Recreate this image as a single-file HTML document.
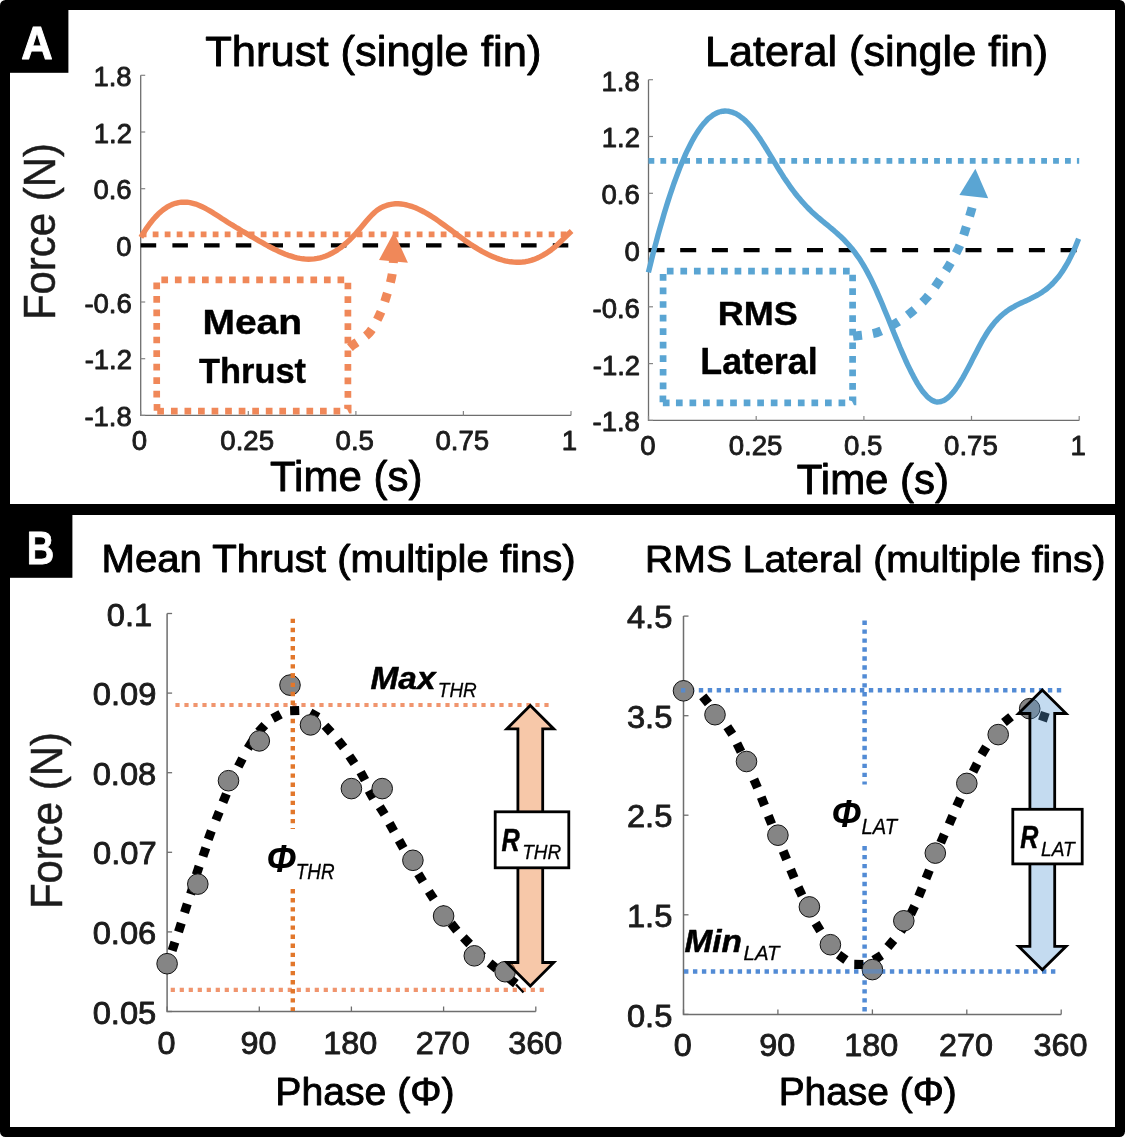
<!DOCTYPE html>
<html lang="en"><head><meta charset="utf-8"><title>Figure</title>
<style>
html,body{margin:0;padding:0;background:#fff;}
svg{display:block;font-family:"Liberation Sans", sans-serif;}
</style></head>
<body>
<svg width="1125" height="1137" viewBox="0 0 1125 1137">
<rect x="0" y="0" width="1125" height="1137" rx="5.5" ry="5.5" fill="#000"/>
<rect x="10" y="10" width="1105" height="494" fill="#fff"/>
<rect x="10" y="515" width="1105" height="612" fill="#fff"/>
<rect x="6" y="6" width="62.4" height="66.8" fill="#000"/>
<rect x="5" y="504" width="67.4" height="73.8" fill="#000"/>
<text transform="translate(21.21,58.70) scale(0.9281,1)" font-size="46.96" font-weight="bold" fill="#fff" stroke="#fff" stroke-width="1.0" stroke-linejoin="round">A</text>
<text transform="translate(26.83,563.60) scale(0.8175,1)" font-size="46.52" font-weight="bold" fill="#fff" stroke="#fff" stroke-width="0.8" stroke-linejoin="round">B</text>
<path d="M140.7,75.3 V415.4 H571.0" fill="none" stroke="#6e6e6e" stroke-width="1.3"/>
<line x1="140.7" x2="145.2" y1="75.3" y2="75.3" stroke="#858585" stroke-width="1.2"/>
<line x1="140.7" x2="145.2" y1="132.0" y2="132.0" stroke="#858585" stroke-width="1.2"/>
<line x1="140.7" x2="145.2" y1="188.7" y2="188.7" stroke="#858585" stroke-width="1.2"/>
<line x1="140.7" x2="145.2" y1="245.3" y2="245.3" stroke="#858585" stroke-width="1.2"/>
<line x1="140.7" x2="145.2" y1="302.0" y2="302.0" stroke="#858585" stroke-width="1.2"/>
<line x1="140.7" x2="145.2" y1="358.7" y2="358.7" stroke="#858585" stroke-width="1.2"/>
<line x1="140.7" x2="145.2" y1="415.4" y2="415.4" stroke="#858585" stroke-width="1.2"/>
<line x1="140.7" x2="140.7" y1="415.4" y2="410.9" stroke="#858585" stroke-width="1.2"/>
<line x1="248.3" x2="248.3" y1="415.4" y2="410.9" stroke="#858585" stroke-width="1.2"/>
<line x1="355.9" x2="355.9" y1="415.4" y2="410.9" stroke="#858585" stroke-width="1.2"/>
<line x1="463.4" x2="463.4" y1="415.4" y2="410.9" stroke="#858585" stroke-width="1.2"/>
<line x1="571.0" x2="571.0" y1="415.4" y2="410.9" stroke="#858585" stroke-width="1.2"/>
<text transform="translate(93.46,85.90) scale(1.0250,1)" font-size="26.82" fill="#1c1c1c" stroke="#1c1c1c" stroke-width="0.85" stroke-linejoin="round">1.8</text>
<text transform="translate(93.74,142.58) scale(1.0250,1)" font-size="26.82" fill="#1c1c1c" stroke="#1c1c1c" stroke-width="0.85" stroke-linejoin="round">1.2</text>
<text transform="translate(93.46,199.27) scale(1.0250,1)" font-size="26.82" fill="#1c1c1c" stroke="#1c1c1c" stroke-width="0.85" stroke-linejoin="round">0.6</text>
<text transform="translate(116.28,255.95) scale(1.0250,1)" font-size="26.82" fill="#1c1c1c" stroke="#1c1c1c" stroke-width="0.85" stroke-linejoin="round">0</text>
<text transform="translate(84.39,312.63) scale(1.0250,1)" font-size="26.82" fill="#1c1c1c" stroke="#1c1c1c" stroke-width="0.85" stroke-linejoin="round">-0.6</text>
<text transform="translate(84.66,369.32) scale(1.0250,1)" font-size="26.82" fill="#1c1c1c" stroke="#1c1c1c" stroke-width="0.85" stroke-linejoin="round">-1.2</text>
<text transform="translate(84.39,426.00) scale(1.0250,1)" font-size="26.82" fill="#1c1c1c" stroke="#1c1c1c" stroke-width="0.85" stroke-linejoin="round">-1.8</text>
<text transform="translate(131.86,450.40) scale(1.0300,1)" font-size="26.82" fill="#1c1c1c" stroke="#1c1c1c" stroke-width="0.85" stroke-linejoin="round">0</text>
<text transform="translate(220.31,450.40) scale(1.0300,1)" font-size="26.82" fill="#1c1c1c" stroke="#1c1c1c" stroke-width="0.85" stroke-linejoin="round">0.25</text>
<text transform="translate(335.55,450.40) scale(1.0300,1)" font-size="26.82" fill="#1c1c1c" stroke="#1c1c1c" stroke-width="0.85" stroke-linejoin="round">0.5</text>
<text transform="translate(435.46,450.40) scale(1.0300,1)" font-size="26.82" fill="#1c1c1c" stroke="#1c1c1c" stroke-width="0.85" stroke-linejoin="round">0.75</text>
<text transform="translate(561.82,450.40) scale(1.0300,1)" font-size="26.82" fill="#1c1c1c" stroke="#1c1c1c" stroke-width="0.85" stroke-linejoin="round">1</text>
<text transform="translate(55.3,231.6) rotate(-90) scale(0.94,1)" font-size="44.6" text-anchor="middle" fill="#1c1c1c" stroke="#1c1c1c" stroke-width="0.5">Force (N)</text>
<text transform="translate(205.18,66.20) scale(1.0340,1)" font-size="42.10" fill="#000" stroke="#000" stroke-width="0.9" stroke-linejoin="round">Thrust (single fin)</text>
<text transform="translate(270.01,490.60) scale(0.9775,1)" font-size="42.97" fill="#000" stroke="#000" stroke-width="0.9" stroke-linejoin="round">Time (s)</text>
<line x1="140.7" x2="571.0" y1="245.3" y2="245.3" stroke="#000" stroke-width="4.3" stroke-dasharray="15.5 16.2"/>
<line x1="140.7" x2="571.0" y1="234.4" y2="234.4" stroke="#F08859" stroke-width="5.8" stroke-dasharray="5.8 6.2"/>
<path d="M140.9,237.4 L143.8,232.5 L146.7,228.1 L149.6,224.0 L152.5,220.3 L155.4,217.0 L158.2,214.1 L161.1,211.5 L164.0,209.2 L166.9,207.2 L169.8,205.6 L172.7,204.3 L175.6,203.3 L178.5,202.6 L181.4,202.2 L184.3,202.1 L187.1,202.2 L190.0,202.6 L192.9,203.3 L195.8,204.1 L198.7,205.2 L201.6,206.5 L204.5,207.9 L207.4,209.5 L210.3,211.2 L213.2,212.9 L216.1,214.8 L218.9,216.6 L221.8,218.5 L224.7,220.3 L227.6,222.2 L230.5,224.0 L233.4,225.7 L236.3,227.5 L239.2,229.2 L242.1,231.0 L245.0,232.7 L247.9,234.4 L250.7,236.1 L253.6,237.7 L256.5,239.4 L259.4,241.1 L262.3,242.7 L265.2,244.4 L268.1,246.0 L271.0,247.5 L273.9,249.0 L276.8,250.4 L279.6,251.8 L282.5,253.0 L285.4,254.2 L288.3,255.3 L291.2,256.2 L294.1,257.1 L297.0,257.8 L299.9,258.4 L302.8,258.8 L305.7,259.1 L308.6,259.2 L311.4,259.1 L314.3,258.9 L317.2,258.4 L320.1,257.8 L323.0,257.0 L325.9,255.9 L328.8,254.7 L331.7,253.3 L334.6,251.7 L337.5,249.9 L340.4,247.9 L343.2,245.6 L346.1,243.2 L349.0,240.6 L351.9,237.7 L354.8,234.7 L357.7,231.4 L360.6,228.0 L363.5,224.5 L366.4,221.1 L369.3,217.8 L372.1,214.7 L375.0,212.0 L377.9,209.7 L380.8,207.9 L383.7,206.5 L386.6,205.4 L389.5,204.6 L392.4,204.1 L395.3,203.8 L398.2,203.8 L401.1,204.0 L403.9,204.4 L406.8,205.0 L409.7,205.8 L412.6,206.7 L415.5,207.8 L418.4,209.1 L421.3,210.5 L424.2,212.0 L427.1,213.7 L430.0,215.4 L432.9,217.2 L435.7,219.1 L438.6,221.1 L441.5,223.2 L444.4,225.3 L447.3,227.4 L450.2,229.5 L453.1,231.7 L456.0,233.8 L458.9,236.0 L461.8,238.1 L464.6,240.2 L467.5,242.2 L470.4,244.2 L473.3,246.1 L476.2,247.9 L479.1,249.7 L482.0,251.4 L484.9,252.9 L487.8,254.4 L490.7,255.8 L493.6,257.0 L496.4,258.1 L499.3,259.1 L502.2,260.0 L505.1,260.8 L508.0,261.4 L510.9,261.8 L513.8,262.1 L516.7,262.3 L519.6,262.2 L522.5,262.0 L525.4,261.7 L528.2,261.1 L531.1,260.4 L534.0,259.4 L536.9,258.3 L539.8,256.9 L542.7,255.4 L545.6,253.7 L548.5,251.8 L551.4,249.7 L554.3,247.4 L557.1,244.9 L560.0,242.2 L562.9,239.4 L565.8,236.5 L568.7,233.7 L571.6,231.0" fill="none" stroke="#F08859" stroke-width="5.4" stroke-linejoin="round"/>
<line x1="161.35" x2="344.20" y1="279.9" y2="279.9" stroke="#F08859" stroke-width="6.7" stroke-dasharray="6.7 6.85"/>
<line x1="170.95" x2="340.25" y1="411.2" y2="411.2" stroke="#F08859" stroke-width="6.7" stroke-dasharray="6.7 6.85"/>
<line y1="282.45" y2="397.55" x1="156.7" x2="156.7" stroke="#F08859" stroke-width="6.7" stroke-dasharray="6.7 6.85"/>
<line y1="282.65" y2="397.75" x1="347.9" x2="347.9" stroke="#F08859" stroke-width="6.7" stroke-dasharray="6.7 6.85"/>
<rect x="153.65" y="404.05" width="6.7" height="6.7" fill="#F08859"/>
<rect x="157.25" y="407.85" width="6.7" height="6.7" fill="#F08859"/>
<path d="M344.2,404.8 H351.5 V413.5 H349.2 L347.2,409.6 L344.2,408.5 Z" fill="#F08859"/>
<text transform="translate(202.46,334.00) scale(1.1310,1)" font-size="34.49" font-weight="bold" fill="#000" stroke="#000" stroke-width="0.4" stroke-linejoin="round">Mean</text>
<text transform="translate(199.06,382.50) scale(0.9768,1)" font-size="35.22" font-weight="bold" fill="#000" stroke="#000" stroke-width="0.4" stroke-linejoin="round">Thrust</text>
<path d="M349.9,347.6 C350.5,347.1 350.1,347.2 353.3,344.7 C356.5,342.2 364.9,337.8 369.3,332.7 C373.8,327.6 377.1,320.2 380.0,314.0 C382.9,307.8 384.7,301.8 386.7,295.3 C388.7,288.9 390.9,281.4 392.0,275.3 C393.1,269.2 393.3,261.7 393.6,259.0" fill="none" stroke="#F08859" stroke-width="9" stroke-dasharray="9 10.8"/>
<path d="M394,232.3 L379,260 L407.9,262.7 Z" fill="#F08859"/>
<path d="M648.5,79.7 V420.4 H1079.2" fill="none" stroke="#6e6e6e" stroke-width="1.3"/>
<line x1="648.5" x2="653.0" y1="79.7" y2="79.7" stroke="#858585" stroke-width="1.2"/>
<line x1="648.5" x2="653.0" y1="136.5" y2="136.5" stroke="#858585" stroke-width="1.2"/>
<line x1="648.5" x2="653.0" y1="193.3" y2="193.3" stroke="#858585" stroke-width="1.2"/>
<line x1="648.5" x2="653.0" y1="250.1" y2="250.1" stroke="#858585" stroke-width="1.2"/>
<line x1="648.5" x2="653.0" y1="306.8" y2="306.8" stroke="#858585" stroke-width="1.2"/>
<line x1="648.5" x2="653.0" y1="363.6" y2="363.6" stroke="#858585" stroke-width="1.2"/>
<line x1="648.5" x2="653.0" y1="420.4" y2="420.4" stroke="#858585" stroke-width="1.2"/>
<line x1="648.5" x2="648.5" y1="420.4" y2="415.9" stroke="#858585" stroke-width="1.2"/>
<line x1="756.2" x2="756.2" y1="420.4" y2="415.9" stroke="#858585" stroke-width="1.2"/>
<line x1="863.9" x2="863.9" y1="420.4" y2="415.9" stroke="#858585" stroke-width="1.2"/>
<line x1="971.5" x2="971.5" y1="420.4" y2="415.9" stroke="#858585" stroke-width="1.2"/>
<line x1="1079.2" x2="1079.2" y1="420.4" y2="415.9" stroke="#858585" stroke-width="1.2"/>
<text transform="translate(601.56,90.60) scale(1.0250,1)" font-size="26.82" fill="#1c1c1c" stroke="#1c1c1c" stroke-width="0.85" stroke-linejoin="round">1.8</text>
<text transform="translate(601.84,147.38) scale(1.0250,1)" font-size="26.82" fill="#1c1c1c" stroke="#1c1c1c" stroke-width="0.85" stroke-linejoin="round">1.2</text>
<text transform="translate(601.56,204.17) scale(1.0250,1)" font-size="26.82" fill="#1c1c1c" stroke="#1c1c1c" stroke-width="0.85" stroke-linejoin="round">0.6</text>
<text transform="translate(624.38,260.95) scale(1.0250,1)" font-size="26.82" fill="#1c1c1c" stroke="#1c1c1c" stroke-width="0.85" stroke-linejoin="round">0</text>
<text transform="translate(592.49,317.73) scale(1.0250,1)" font-size="26.82" fill="#1c1c1c" stroke="#1c1c1c" stroke-width="0.85" stroke-linejoin="round">-0.6</text>
<text transform="translate(592.76,374.52) scale(1.0250,1)" font-size="26.82" fill="#1c1c1c" stroke="#1c1c1c" stroke-width="0.85" stroke-linejoin="round">-1.2</text>
<text transform="translate(592.49,431.30) scale(1.0250,1)" font-size="26.82" fill="#1c1c1c" stroke="#1c1c1c" stroke-width="0.85" stroke-linejoin="round">-1.8</text>
<text transform="translate(640.16,455.40) scale(1.0300,1)" font-size="26.82" fill="#1c1c1c" stroke="#1c1c1c" stroke-width="0.85" stroke-linejoin="round">0</text>
<text transform="translate(728.71,455.40) scale(1.0300,1)" font-size="26.82" fill="#1c1c1c" stroke="#1c1c1c" stroke-width="0.85" stroke-linejoin="round">0.25</text>
<text transform="translate(844.05,455.40) scale(1.0300,1)" font-size="26.82" fill="#1c1c1c" stroke="#1c1c1c" stroke-width="0.85" stroke-linejoin="round">0.5</text>
<text transform="translate(944.06,455.40) scale(1.0300,1)" font-size="26.82" fill="#1c1c1c" stroke="#1c1c1c" stroke-width="0.85" stroke-linejoin="round">0.75</text>
<text transform="translate(1070.52,455.40) scale(1.0300,1)" font-size="26.82" fill="#1c1c1c" stroke="#1c1c1c" stroke-width="0.85" stroke-linejoin="round">1</text>
<text transform="translate(705.10,66.00) scale(1.0217,1)" font-size="42.25" fill="#000" stroke="#000" stroke-width="0.9" stroke-linejoin="round">Lateral (single fin)</text>
<text transform="translate(796.71,494.10) scale(0.9841,1)" font-size="42.68" fill="#000" stroke="#000" stroke-width="0.9" stroke-linejoin="round">Time (s)</text>
<line x1="648.5" x2="1079.2" y1="250.1" y2="250.1" stroke="#000" stroke-width="4.3" stroke-dasharray="16 15.7"/>
<line x1="648.5" x2="1079.2" y1="160.8" y2="160.8" stroke="#5AA5D3" stroke-width="5.8" stroke-dasharray="5.8 6.1"/>
<path d="M648.4,272.3 L650.4,264.3 L652.3,256.5 L654.3,248.9 L656.3,241.5 L658.2,234.3 L660.2,227.3 L662.2,220.4 L664.1,213.8 L666.1,207.3 L668.0,201.1 L670.0,195.0 L672.0,189.2 L673.9,183.5 L675.9,178.1 L677.9,172.8 L679.8,167.8 L681.8,163.0 L683.8,158.4 L685.7,153.9 L687.7,149.7 L689.7,145.8 L691.6,142.0 L693.6,138.4 L695.5,135.1 L697.5,132.0 L699.5,129.0 L701.4,126.4 L703.4,123.9 L705.4,121.7 L707.3,119.6 L709.3,117.8 L711.3,116.3 L713.2,114.9 L715.2,113.7 L717.2,112.8 L719.1,112.0 L721.1,111.5 L723.0,111.2 L725.0,111.0 L727.0,111.1 L728.9,111.3 L730.9,111.8 L732.9,112.4 L734.8,113.2 L736.8,114.2 L738.8,115.4 L740.7,116.8 L742.7,118.3 L744.7,120.0 L746.6,121.9 L748.6,123.9 L750.5,126.1 L752.5,128.5 L754.5,131.1 L756.4,133.7 L758.4,136.5 L760.4,139.4 L762.3,142.4 L764.3,145.5 L766.3,148.7 L768.2,151.9 L770.2,155.1 L772.2,158.4 L774.1,161.6 L776.1,164.9 L778.0,168.1 L780.0,171.3 L782.0,174.4 L783.9,177.5 L785.9,180.4 L787.9,183.3 L789.8,186.1 L791.8,188.8 L793.8,191.5 L795.7,194.0 L797.7,196.5 L799.7,198.8 L801.6,201.1 L803.6,203.3 L805.6,205.5 L807.5,207.5 L809.5,209.5 L811.4,211.4 L813.4,213.2 L815.4,215.0 L817.3,216.7 L819.3,218.4 L821.3,220.1 L823.2,221.7 L825.2,223.3 L827.2,224.9 L829.1,226.5 L831.1,228.2 L833.1,229.8 L835.0,231.5 L837.0,233.2 L838.9,235.0 L840.9,236.8 L842.9,238.7 L844.8,240.7 L846.8,242.8 L848.8,245.0 L850.7,247.2 L852.7,249.6 L854.7,252.2 L856.6,254.8 L858.6,257.6 L860.6,260.6 L862.5,263.7 L864.5,267.0 L866.4,270.4 L868.4,274.1 L870.4,277.9 L872.3,281.9 L874.3,286.1 L876.3,290.4 L878.2,294.9 L880.2,299.4 L882.2,304.0 L884.1,308.7 L886.1,313.5 L888.1,318.3 L890.0,323.1 L892.0,327.9 L893.9,332.8 L895.9,337.6 L897.9,342.3 L899.8,347.0 L901.8,351.6 L903.8,356.1 L905.7,360.5 L907.7,364.8 L909.7,368.9 L911.6,372.8 L913.6,376.6 L915.6,380.2 L917.5,383.6 L919.5,386.7 L921.4,389.6 L923.4,392.3 L925.4,394.6 L927.3,396.7 L929.3,398.4 L931.3,399.8 L933.2,400.9 L935.2,401.6 L937.2,402.0 L939.1,401.9 L941.1,401.5 L943.1,400.8 L945.0,399.8 L947.0,398.4 L949.0,396.7 L950.9,394.8 L952.9,392.5 L954.8,390.1 L956.8,387.3 L958.8,384.4 L960.7,381.2 L962.7,377.9 L964.7,374.3 L966.6,370.7 L968.6,367.0 L970.6,363.2 L972.5,359.4 L974.5,355.5 L976.5,351.7 L978.4,348.0 L980.4,344.3 L982.3,340.7 L984.3,337.3 L986.3,334.0 L988.2,331.0 L990.2,328.1 L992.2,325.5 L994.1,323.1 L996.1,320.8 L998.1,318.7 L1000.0,316.8 L1002.0,315.0 L1004.0,313.3 L1005.9,311.8 L1007.9,310.4 L1009.8,309.1 L1011.8,307.9 L1013.8,306.8 L1015.7,305.7 L1017.7,304.7 L1019.7,303.7 L1021.6,302.8 L1023.6,301.9 L1025.6,301.0 L1027.5,300.1 L1029.5,299.2 L1031.5,298.2 L1033.4,297.2 L1035.4,296.2 L1037.3,295.1 L1039.3,294.0 L1041.3,292.8 L1043.2,291.4 L1045.2,290.0 L1047.2,288.5 L1049.1,286.8 L1051.1,285.0 L1053.1,283.0 L1055.0,280.9 L1057.0,278.6 L1059.0,276.2 L1060.9,273.5 L1062.9,270.6 L1064.8,267.5 L1066.8,264.2 L1068.8,260.6 L1070.7,256.8 L1072.7,252.7 L1074.7,248.4 L1076.6,243.7 L1078.6,238.8" fill="none" stroke="#5AA5D3" stroke-width="5.4" stroke-linejoin="round"/>
<line x1="666.85" x2="849.70" y1="271.2" y2="271.2" stroke="#5AA5D3" stroke-width="6.7" stroke-dasharray="6.7 6.85"/>
<line x1="675.95" x2="845.25" y1="402.9" y2="402.9" stroke="#5AA5D3" stroke-width="6.7" stroke-dasharray="6.7 6.85"/>
<line y1="274.05" y2="389.15" x1="663.1" x2="663.1" stroke="#5AA5D3" stroke-width="6.7" stroke-dasharray="6.7 6.85"/>
<line y1="274.65" y2="389.75" x1="852.6" x2="852.6" stroke="#5AA5D3" stroke-width="6.7" stroke-dasharray="6.7 6.85"/>
<rect x="659.55" y="395.55" width="6.7" height="6.7" fill="#5AA5D3"/>
<rect x="662.85" y="399.55" width="6.7" height="6.7" fill="#5AA5D3"/>
<path d="M849.0,396.5 H856.3 V405.2 H854.0 L852.0,401.3 L849.0,400.2 Z" fill="#5AA5D3"/>
<text transform="translate(717.86,325.00) scale(1.0718,1)" font-size="33.62" font-weight="bold" fill="#000" stroke="#000" stroke-width="0.4" stroke-linejoin="round">RMS</text>
<text transform="translate(700.27,373.60) scale(0.9726,1)" font-size="36.81" font-weight="bold" fill="#000" stroke="#000" stroke-width="0.4" stroke-linejoin="round">Lateral</text>
<path d="M853.1,336.3 C853.9,336.2 853.7,336.4 857.6,335.8 C861.5,335.2 870.7,334.6 876.8,332.6 C882.9,330.6 888.5,327.5 894.4,324.0 C900.3,320.5 906.6,316.2 912.0,311.8 C917.4,307.4 922.5,302.6 927.0,297.4 C931.5,292.2 935.3,286.5 939.2,280.8 C943.1,275.1 946.9,269.2 950.4,263.2 C953.9,257.2 957.3,251.1 960.0,245.0 C962.7,238.9 964.4,232.7 966.4,226.4 C968.4,220.1 970.9,212.1 972.2,207.2 C973.5,202.3 973.7,198.7 974.0,197.0" fill="none" stroke="#5AA5D3" stroke-width="9" stroke-dasharray="9 10.8"/>
<path d="M975.4,168.8 L959.4,195 L988.2,198.2 Z" fill="#5AA5D3"/>
<path d="M167.1,613.5 V1011.5 H535.8" fill="none" stroke="#6e6e6e" stroke-width="1.5"/>
<line x1="167.1" x2="172.1" y1="613.5" y2="613.5" stroke="#6e6e6e" stroke-width="1.3"/>
<line x1="167.1" x2="172.1" y1="693.1" y2="693.1" stroke="#6e6e6e" stroke-width="1.3"/>
<line x1="167.1" x2="172.1" y1="772.7" y2="772.7" stroke="#6e6e6e" stroke-width="1.3"/>
<line x1="167.1" x2="172.1" y1="852.3" y2="852.3" stroke="#6e6e6e" stroke-width="1.3"/>
<line x1="167.1" x2="172.1" y1="931.9" y2="931.9" stroke="#6e6e6e" stroke-width="1.3"/>
<line x1="167.1" x2="172.1" y1="1011.5" y2="1011.5" stroke="#6e6e6e" stroke-width="1.3"/>
<line x1="167.1" x2="167.1" y1="1011.5" y2="1006.5" stroke="#6e6e6e" stroke-width="1.3"/>
<line x1="259.3" x2="259.3" y1="1011.5" y2="1006.5" stroke="#6e6e6e" stroke-width="1.3"/>
<line x1="351.4" x2="351.4" y1="1011.5" y2="1006.5" stroke="#6e6e6e" stroke-width="1.3"/>
<line x1="443.6" x2="443.6" y1="1011.5" y2="1006.5" stroke="#6e6e6e" stroke-width="1.3"/>
<line x1="535.8" x2="535.8" y1="1011.5" y2="1006.5" stroke="#6e6e6e" stroke-width="1.3"/>
<text transform="translate(106.77,625.60) scale(1.0565,1)" font-size="30.96" fill="#1c1c1c" stroke="#1c1c1c" stroke-width="0.85" stroke-linejoin="round">0.1</text>
<text transform="translate(92.82,705.20) scale(1.0565,1)" font-size="30.96" fill="#1c1c1c" stroke="#1c1c1c" stroke-width="0.85" stroke-linejoin="round">0.09</text>
<text transform="translate(92.65,784.80) scale(1.0565,1)" font-size="30.96" fill="#1c1c1c" stroke="#1c1c1c" stroke-width="0.85" stroke-linejoin="round">0.08</text>
<text transform="translate(92.98,864.40) scale(1.0565,1)" font-size="30.96" fill="#1c1c1c" stroke="#1c1c1c" stroke-width="0.85" stroke-linejoin="round">0.07</text>
<text transform="translate(92.65,944.00) scale(1.0565,1)" font-size="30.96" fill="#1c1c1c" stroke="#1c1c1c" stroke-width="0.85" stroke-linejoin="round">0.06</text>
<text transform="translate(92.65,1023.60) scale(1.0565,1)" font-size="30.96" fill="#1c1c1c" stroke="#1c1c1c" stroke-width="0.85" stroke-linejoin="round">0.05</text>
<text transform="translate(157.43,1053.60) scale(1.0609,1)" font-size="30.54" fill="#1c1c1c" stroke="#1c1c1c" stroke-width="0.85" stroke-linejoin="round">0</text>
<text transform="translate(240.53,1053.60) scale(1.0609,1)" font-size="30.54" fill="#1c1c1c" stroke="#1c1c1c" stroke-width="0.85" stroke-linejoin="round">90</text>
<text transform="translate(323.23,1053.60) scale(1.0609,1)" font-size="30.54" fill="#1c1c1c" stroke="#1c1c1c" stroke-width="0.85" stroke-linejoin="round">180</text>
<text transform="translate(415.81,1053.60) scale(1.0609,1)" font-size="30.54" fill="#1c1c1c" stroke="#1c1c1c" stroke-width="0.85" stroke-linejoin="round">270</text>
<text transform="translate(508.15,1053.60) scale(1.0609,1)" font-size="30.54" fill="#1c1c1c" stroke="#1c1c1c" stroke-width="0.85" stroke-linejoin="round">360</text>
<text transform="translate(62.3,820.6) rotate(-90) scale(0.94,1)" font-size="44.6" text-anchor="middle" fill="#1c1c1c" stroke="#1c1c1c" stroke-width="0.5">Force (N)</text>
<text transform="translate(101.54,572.20) scale(1.0591,1)" font-size="37.90" fill="#000" stroke="#000" stroke-width="0.9" stroke-linejoin="round">Mean Thrust (multiple fins)</text>
<text transform="translate(275.32,1104.50) scale(0.9881,1)" font-size="39.64" fill="#000" stroke="#000" stroke-width="0.9" stroke-linejoin="round">Phase (Φ)</text>
<line x1="175.4" x2="550.5" y1="705" y2="705" stroke="#F0956E" stroke-width="4.2" stroke-dasharray="4.2 4.8"/>
<line x1="170.7" x2="544" y1="989.8" y2="989.8" stroke="#F0956E" stroke-width="4.2" stroke-dasharray="4.2 4.8"/>
<line x1="292.8" x2="292.8" y1="618.7" y2="829" stroke="#E2772B" stroke-width="4.4" stroke-dasharray="4.4 4.7"/>
<line x1="292.8" x2="292.8" y1="889" y2="1011" stroke="#E2772B" stroke-width="4.4" stroke-dasharray="4.4 4.7"/>
<rect x="-4.55" y="-4.55" width="9.1" height="9.1" fill="#000" fill-opacity="1" transform="translate(168.2,964.0) rotate(-73.2)"/>
<rect x="-4.55" y="-4.55" width="9.1" height="9.1" fill="#000" fill-opacity="1" transform="translate(173.5,946.4) rotate(-72.2)"/>
<rect x="-4.55" y="-4.55" width="9.1" height="9.1" fill="#000" fill-opacity="1" transform="translate(179.9,927.5) rotate(-72.0)"/>
<rect x="-4.55" y="-4.55" width="9.1" height="9.1" fill="#000" fill-opacity="1" transform="translate(185.9,908.3) rotate(-72.2)"/>
<rect x="-4.55" y="-4.55" width="9.1" height="9.1" fill="#000" fill-opacity="1" transform="translate(192.0,889.8) rotate(-72.6)"/>
<rect x="-4.55" y="-4.55" width="9.1" height="9.1" fill="#000" fill-opacity="1" transform="translate(197.7,870.6) rotate(-71.8)"/>
<rect x="-4.55" y="-4.55" width="9.1" height="9.1" fill="#000" fill-opacity="1" transform="translate(204.4,852.1) rotate(-71.2)"/>
<rect x="-4.55" y="-4.55" width="9.1" height="9.1" fill="#000" fill-opacity="1" transform="translate(209.8,835.1) rotate(-70.0)"/>
<rect x="-4.55" y="-4.55" width="9.1" height="9.1" fill="#000" fill-opacity="1" transform="translate(217.6,815.9) rotate(-68.1)"/>
<rect x="-4.55" y="-4.55" width="9.1" height="9.1" fill="#000" fill-opacity="1" transform="translate(224.7,798.1) rotate(-67.7)"/>
<rect x="-4.55" y="-4.55" width="9.1" height="9.1" fill="#000" fill-opacity="1" transform="translate(232.3,780.0) rotate(-66.2)"/>
<rect x="-4.55" y="-4.55" width="9.1" height="9.1" fill="#000" fill-opacity="1" transform="translate(240.4,762.5) rotate(-63.0)"/>
<rect x="-4.55" y="-4.55" width="9.1" height="9.1" fill="#000" fill-opacity="1" transform="translate(250.3,744.6) rotate(-58.0)"/>
<rect x="-4.55" y="-4.55" width="9.1" height="9.1" fill="#000" fill-opacity="1" transform="translate(261.7,728.4) rotate(-47.1)"/>
<rect x="-4.55" y="-4.55" width="9.1" height="9.1" fill="#000" fill-opacity="1" transform="translate(276.6,716.3) rotate(-28.3)"/>
<rect x="-4.55" y="-4.55" width="9.1" height="9.1" fill="#000" fill-opacity="1" transform="translate(294.7,710.6) rotate(-2.1)"/>
<rect x="-4.55" y="-4.55" width="9.1" height="9.1" fill="#000" fill-opacity="1" transform="translate(314.2,714.9) rotate(29.0)"/>
<rect x="-4.55" y="-4.55" width="9.1" height="9.1" fill="#000" fill-opacity="1" transform="translate(328.1,729.1) rotate(47.3)"/>
<rect x="-4.55" y="-4.55" width="9.1" height="9.1" fill="#000" fill-opacity="1" transform="translate(340.9,743.8) rotate(52.1)"/>
<rect x="-4.55" y="-4.55" width="9.1" height="9.1" fill="#000" fill-opacity="1" transform="translate(351.9,759.7) rotate(55.9)"/>
<rect x="-4.55" y="-4.55" width="9.1" height="9.1" fill="#000" fill-opacity="1" transform="translate(362.8,776.1) rotate(61.2)"/>
<rect x="-4.55" y="-4.55" width="9.1" height="9.1" fill="#000" fill-opacity="1" transform="translate(371.1,794.6) rotate(60.7)"/>
<rect x="-4.55" y="-4.55" width="9.1" height="9.1" fill="#000" fill-opacity="1" transform="translate(382.2,810.6) rotate(57.8)"/>
<rect x="-4.55" y="-4.55" width="9.1" height="9.1" fill="#000" fill-opacity="1" transform="translate(391.7,827.3) rotate(60.6)"/>
<rect x="-4.55" y="-4.55" width="9.1" height="9.1" fill="#000" fill-opacity="1" transform="translate(401.2,844.3) rotate(60.6)"/>
<rect x="-4.55" y="-4.55" width="9.1" height="9.1" fill="#000" fill-opacity="1" transform="translate(410.6,860.9) rotate(59.9)"/>
<rect x="-4.55" y="-4.55" width="9.1" height="9.1" fill="#000" fill-opacity="1" transform="translate(420.6,877.7) rotate(58.9)"/>
<rect x="-4.55" y="-4.55" width="9.1" height="9.1" fill="#000" fill-opacity="1" transform="translate(431.3,895.2) rotate(56.9)"/>
<rect x="-4.55" y="-4.55" width="9.1" height="9.1" fill="#000" fill-opacity="1" transform="translate(442.5,911.3) rotate(54.5)"/>
<rect x="-4.55" y="-4.55" width="9.1" height="9.1" fill="#000" fill-opacity="1" transform="translate(454.0,927.0) rotate(50.8)"/>
<rect x="-4.55" y="-4.55" width="9.1" height="9.1" fill="#000" fill-opacity="1" transform="translate(466.5,940.7) rotate(46.1)"/>
<rect x="-4.55" y="-4.55" width="9.1" height="9.1" fill="#000" fill-opacity="1" transform="translate(479.5,953.5) rotate(43.5)"/>
<rect x="-4.55" y="-4.55" width="9.1" height="9.1" fill="#000" fill-opacity="1" transform="translate(493.1,965.9) rotate(39.8)"/>
<rect x="-4.55" y="-4.55" width="9.1" height="9.1" fill="#000" fill-opacity="1" transform="translate(512.3,980.8) rotate(37.8)"/>
<path d="M516,984.5 L523.5,992.5" stroke="#000" stroke-width="2.2" fill="none"/>
<circle cx="167.1" cy="963.7" r="10.3" fill="#858585" stroke="#111" stroke-width="1"/>
<circle cx="197.8" cy="884.1" r="10.3" fill="#858585" stroke="#111" stroke-width="1"/>
<circle cx="228.5" cy="780.7" r="10.3" fill="#858585" stroke="#111" stroke-width="1"/>
<circle cx="259.3" cy="740.9" r="10.3" fill="#858585" stroke="#111" stroke-width="1"/>
<circle cx="290.0" cy="685.1" r="10.3" fill="#858585" stroke="#111" stroke-width="1"/>
<circle cx="310.5" cy="724.9" r="10.3" fill="#858585" stroke="#111" stroke-width="1"/>
<circle cx="351.4" cy="788.6" r="10.3" fill="#858585" stroke="#111" stroke-width="1"/>
<circle cx="382.2" cy="788.6" r="10.3" fill="#858585" stroke="#111" stroke-width="1"/>
<circle cx="412.9" cy="860.3" r="10.3" fill="#858585" stroke="#111" stroke-width="1"/>
<circle cx="443.6" cy="916.0" r="10.3" fill="#858585" stroke="#111" stroke-width="1"/>
<circle cx="474.3" cy="955.8" r="10.3" fill="#858585" stroke="#111" stroke-width="1"/>
<circle cx="505.1" cy="971.7" r="10.3" fill="#858585" stroke="#111" stroke-width="1"/>
<line x1="292.8" x2="292.8" y1="673.6" y2="700" stroke="#E2772B" stroke-width="4.4" stroke-dasharray="4.4 4.7"/>
<path d="M530.3,705.4 L553.8,728.9 H542.6999999999999 V962.5 H553.8 L530.3,986 L506.79999999999995,962.5 H517.9 V728.9 H506.79999999999995 Z" fill="#ED7D31" fill-opacity="0.42" stroke="#000" stroke-width="2.8" stroke-linejoin="miter"/>
<rect x="495.2" y="811.8" width="73.6" height="56" fill="#fff" stroke="#000" stroke-width="2.8"/>
<text transform="translate(501.55,850.80) scale(0.7844,1)" font-size="32.10" font-weight="bold" font-style="italic" fill="#000" stroke="#000" stroke-width="0.5" stroke-linejoin="round">R</text>
<text transform="translate(522.14,859.00) scale(0.9120,1)" font-size="20.80" font-style="italic" fill="#000" stroke="#000" stroke-width="0.3" stroke-linejoin="round">THR</text>
<text transform="translate(370.58,688.50) scale(1.0634,1)" font-size="31.38" font-weight="bold" font-style="italic" fill="#000" stroke="#000" stroke-width="0.5" stroke-linejoin="round">Max</text>
<text transform="translate(437.84,697.30) scale(0.9120,1)" font-size="20.80" font-style="italic" fill="#000" stroke="#000" stroke-width="0.3" stroke-linejoin="round">THR</text>
<text transform="translate(266.58,872.00) scale(0.9287,1)" font-size="38.85" font-weight="bold" font-style="italic" fill="#000">Φ</text>
<text transform="translate(295.85,878.60) scale(0.8765,1)" font-size="21.52" font-style="italic" fill="#000" stroke="#000" stroke-width="0.3" stroke-linejoin="round">THR</text>
<path d="M683.5,616.1 V1014.4 H1061.2" fill="none" stroke="#6e6e6e" stroke-width="1.5"/>
<line x1="683.5" x2="688.5" y1="616.1" y2="616.1" stroke="#6e6e6e" stroke-width="1.3"/>
<line x1="683.5" x2="688.5" y1="715.7" y2="715.7" stroke="#6e6e6e" stroke-width="1.3"/>
<line x1="683.5" x2="688.5" y1="815.2" y2="815.2" stroke="#6e6e6e" stroke-width="1.3"/>
<line x1="683.5" x2="688.5" y1="914.8" y2="914.8" stroke="#6e6e6e" stroke-width="1.3"/>
<line x1="683.5" x2="688.5" y1="1014.4" y2="1014.4" stroke="#6e6e6e" stroke-width="1.3"/>
<line x1="683.5" x2="683.5" y1="1014.4" y2="1009.4" stroke="#6e6e6e" stroke-width="1.3"/>
<line x1="777.9" x2="777.9" y1="1014.4" y2="1009.4" stroke="#6e6e6e" stroke-width="1.3"/>
<line x1="872.4" x2="872.4" y1="1014.4" y2="1009.4" stroke="#6e6e6e" stroke-width="1.3"/>
<line x1="966.8" x2="966.8" y1="1014.4" y2="1009.4" stroke="#6e6e6e" stroke-width="1.3"/>
<line x1="1061.2" x2="1061.2" y1="1014.4" y2="1009.4" stroke="#6e6e6e" stroke-width="1.3"/>
<text transform="translate(626.91,628.20) scale(1.0565,1)" font-size="30.96" fill="#1c1c1c" stroke="#1c1c1c" stroke-width="0.85" stroke-linejoin="round">4.5</text>
<text transform="translate(626.91,727.77) scale(1.0565,1)" font-size="30.96" fill="#1c1c1c" stroke="#1c1c1c" stroke-width="0.85" stroke-linejoin="round">3.5</text>
<text transform="translate(626.91,827.35) scale(1.0565,1)" font-size="30.96" fill="#1c1c1c" stroke="#1c1c1c" stroke-width="0.85" stroke-linejoin="round">2.5</text>
<text transform="translate(626.91,926.93) scale(1.0565,1)" font-size="30.96" fill="#1c1c1c" stroke="#1c1c1c" stroke-width="0.85" stroke-linejoin="round">1.5</text>
<text transform="translate(626.91,1026.50) scale(1.0565,1)" font-size="30.96" fill="#1c1c1c" stroke="#1c1c1c" stroke-width="0.85" stroke-linejoin="round">0.5</text>
<text transform="translate(673.83,1056.00) scale(1.0609,1)" font-size="30.54" fill="#1c1c1c" stroke="#1c1c1c" stroke-width="0.85" stroke-linejoin="round">0</text>
<text transform="translate(759.18,1056.00) scale(1.0609,1)" font-size="30.54" fill="#1c1c1c" stroke="#1c1c1c" stroke-width="0.85" stroke-linejoin="round">90</text>
<text transform="translate(844.13,1056.00) scale(1.0609,1)" font-size="30.54" fill="#1c1c1c" stroke="#1c1c1c" stroke-width="0.85" stroke-linejoin="round">180</text>
<text transform="translate(938.96,1056.00) scale(1.0609,1)" font-size="30.54" fill="#1c1c1c" stroke="#1c1c1c" stroke-width="0.85" stroke-linejoin="round">270</text>
<text transform="translate(1033.55,1056.00) scale(1.0609,1)" font-size="30.54" fill="#1c1c1c" stroke="#1c1c1c" stroke-width="0.85" stroke-linejoin="round">360</text>
<text transform="translate(645.12,571.60) scale(1.0727,1)" font-size="36.45" fill="#000" stroke="#000" stroke-width="0.9" stroke-linejoin="round">RMS Lateral (multiple fins)</text>
<text transform="translate(778.64,1105.30) scale(0.9818,1)" font-size="39.64" fill="#000" stroke="#000" stroke-width="0.9" stroke-linejoin="round">Phase (Φ)</text>
<line x1="689.85" x2="1064" y1="690.3" y2="690.3" stroke="#528BD5" stroke-width="4.5" stroke-dasharray="4.4 4.55"/>
<line x1="684" x2="1059" y1="971.5" y2="971.5" stroke="#528BD5" stroke-width="4.5" stroke-dasharray="4.4 4.55"/>
<line x1="864.6" x2="864.6" y1="620.5" y2="784.5" stroke="#528BD5" stroke-width="4.5" stroke-dasharray="4.4 4.55"/>
<line x1="864.6" x2="864.6" y1="846" y2="1013.3" stroke="#528BD5" stroke-width="4.5" stroke-dasharray="4.4 4.55"/>
<rect x="-4.55" y="-4.55" width="9.1" height="9.1" fill="#000" fill-opacity="1" transform="translate(705.6,699.9) rotate(51.4)"/>
<rect x="-4.55" y="-4.55" width="9.1" height="9.1" fill="#000" fill-opacity="1" transform="translate(717.5,714.8) rotate(51.7)"/>
<rect x="-4.55" y="-4.55" width="9.1" height="9.1" fill="#000" fill-opacity="1" transform="translate(729.8,730.5) rotate(56.8)"/>
<rect x="-4.55" y="-4.55" width="9.1" height="9.1" fill="#000" fill-opacity="1" transform="translate(739.0,747.6) rotate(63.8)"/>
<rect x="-4.55" y="-4.55" width="9.1" height="9.1" fill="#000" fill-opacity="1" transform="translate(746.9,765.3) rotate(65.1)"/>
<rect x="-4.55" y="-4.55" width="9.1" height="9.1" fill="#000" fill-opacity="1" transform="translate(755.7,783.6) rotate(66.0)"/>
<rect x="-4.55" y="-4.55" width="9.1" height="9.1" fill="#000" fill-opacity="1" transform="translate(762.9,801.3) rotate(68.5)"/>
<rect x="-4.55" y="-4.55" width="9.1" height="9.1" fill="#000" fill-opacity="1" transform="translate(770.0,819.9) rotate(68.1)"/>
<rect x="-4.55" y="-4.55" width="9.1" height="9.1" fill="#000" fill-opacity="1" transform="translate(777.5,837.6) rotate(67.2)"/>
<rect x="-4.55" y="-4.55" width="9.1" height="9.1" fill="#000" fill-opacity="1" transform="translate(784.9,855.3) rotate(67.6)"/>
<rect x="-4.55" y="-4.55" width="9.1" height="9.1" fill="#000" fill-opacity="1" transform="translate(792.4,873.8) rotate(67.2)"/>
<rect x="-4.55" y="-4.55" width="9.1" height="9.1" fill="#000" fill-opacity="1" transform="translate(800.1,891.4) rotate(65.1)"/>
<rect x="-4.55" y="-4.55" width="9.1" height="9.1" fill="#000" fill-opacity="1" transform="translate(809.0,909.5) rotate(63.3)"/>
<rect x="-4.55" y="-4.55" width="9.1" height="9.1" fill="#000" fill-opacity="1" transform="translate(818.0,927.0) rotate(58.9)"/>
<rect x="-4.55" y="-4.55" width="9.1" height="9.1" fill="#000" fill-opacity="1" transform="translate(829.5,943.5) rotate(51.4)"/>
<rect x="-4.55" y="-4.55" width="9.1" height="9.1" fill="#000" fill-opacity="1" transform="translate(842.2,957.3) rotate(35.5)"/>
<rect x="-4.55" y="-4.55" width="9.1" height="9.1" fill="#000" fill-opacity="1" transform="translate(858.8,964.4) rotate(0.6)"/>
<rect x="-4.55" y="-4.55" width="9.1" height="9.1" fill="#000" fill-opacity="1" transform="translate(877.7,957.7) rotate(-33.1)"/>
<rect x="-4.55" y="-4.55" width="9.1" height="9.1" fill="#000" fill-opacity="1" transform="translate(890.8,943.5) rotate(-49.7)"/>
<rect x="-4.55" y="-4.55" width="9.1" height="9.1" fill="#000" fill-opacity="1" transform="translate(903.3,927.5) rotate(-56.7)"/>
<rect x="-4.55" y="-4.55" width="9.1" height="9.1" fill="#000" fill-opacity="1" transform="translate(912.7,910.2) rotate(-64.1)"/>
<rect x="-4.55" y="-4.55" width="9.1" height="9.1" fill="#000" fill-opacity="1" transform="translate(920.4,892.3) rotate(-67.3)"/>
<rect x="-4.55" y="-4.55" width="9.1" height="9.1" fill="#000" fill-opacity="1" transform="translate(927.7,874.3) rotate(-68.1)"/>
<rect x="-4.55" y="-4.55" width="9.1" height="9.1" fill="#000" fill-opacity="1" transform="translate(934.9,856.3) rotate(-67.5)"/>
<rect x="-4.55" y="-4.55" width="9.1" height="9.1" fill="#000" fill-opacity="1" transform="translate(942.5,838.6) rotate(-66.2)"/>
<rect x="-4.55" y="-4.55" width="9.1" height="9.1" fill="#000" fill-opacity="1" transform="translate(950.9,820.1) rotate(-66.2)"/>
<rect x="-4.55" y="-4.55" width="9.1" height="9.1" fill="#000" fill-opacity="1" transform="translate(958.5,802.3) rotate(-65.6)"/>
<rect x="-4.55" y="-4.55" width="9.1" height="9.1" fill="#000" fill-opacity="1" transform="translate(966.8,785.0) rotate(-64.4)"/>
<rect x="-4.55" y="-4.55" width="9.1" height="9.1" fill="#000" fill-opacity="1" transform="translate(975.1,767.7) rotate(-63.4)"/>
<rect x="-4.55" y="-4.55" width="9.1" height="9.1" fill="#000" fill-opacity="1" transform="translate(983.9,750.8) rotate(-59.1)"/>
<rect x="-4.55" y="-4.55" width="9.1" height="9.1" fill="#000" fill-opacity="1" transform="translate(995.0,734.5) rotate(-52.9)"/>
<rect x="-4.55" y="-4.55" width="9.1" height="9.1" fill="#000" fill-opacity="1" transform="translate(1007.5,719.6) rotate(-38.9)"/>
<rect x="-4.55" y="-4.55" width="9.1" height="9.1" fill="#000" fill-opacity="1" transform="translate(1025.0,710.3) rotate(-4.6)"/>
<rect x="-4.55" y="-4.55" width="9.1" height="9.1" fill="#000" fill-opacity="1" transform="translate(1043.9,716.7) rotate(18.7)"/>
<circle cx="683.5" cy="690.8" r="10.3" fill="#858585" stroke="#111" stroke-width="1"/>
<circle cx="715.0" cy="714.7" r="10.3" fill="#858585" stroke="#111" stroke-width="1"/>
<circle cx="746.5" cy="761.5" r="10.3" fill="#858585" stroke="#111" stroke-width="1"/>
<circle cx="777.9" cy="835.2" r="10.3" fill="#858585" stroke="#111" stroke-width="1"/>
<circle cx="809.4" cy="906.9" r="10.3" fill="#858585" stroke="#111" stroke-width="1"/>
<circle cx="830.4" cy="944.7" r="10.3" fill="#858585" stroke="#111" stroke-width="1"/>
<circle cx="872.4" cy="969.6" r="10.3" fill="#858585" stroke="#111" stroke-width="1"/>
<circle cx="903.8" cy="920.8" r="10.3" fill="#858585" stroke="#111" stroke-width="1"/>
<circle cx="935.3" cy="853.1" r="10.3" fill="#858585" stroke="#111" stroke-width="1"/>
<circle cx="966.8" cy="783.4" r="10.3" fill="#858585" stroke="#111" stroke-width="1"/>
<circle cx="998.2" cy="734.6" r="10.3" fill="#858585" stroke="#111" stroke-width="1"/>
<circle cx="1029.7" cy="708.7" r="10.3" fill="#858585" stroke="#111" stroke-width="1"/>
<line x1="680.9" x2="686" y1="690.3" y2="690.3" stroke="#528BD5" stroke-width="4.5" stroke-dasharray="4.4 4.55" opacity="0.85"/>
<line x1="862.5" x2="882.5" y1="971.4" y2="971.4" stroke="#528BD5" stroke-width="4.5" opacity="0.55"/>
<path d="M1042.3,690 L1066.1,713.5 H1054.7 V946.3 H1066.1 L1042.3,969.8 L1018.5,946.3 H1029.8999999999999 V713.5 H1018.5 Z" fill="#5B9BD5" fill-opacity="0.36" stroke="#000" stroke-width="2.8" stroke-linejoin="miter"/>
<rect x="1012.8" y="809.3" width="69.4" height="54.6" fill="#fff" stroke="#000" stroke-width="2.8"/>
<text transform="translate(1020.35,848.00) scale(0.8129,1)" font-size="30.80" font-weight="bold" font-style="italic" fill="#000" stroke="#000" stroke-width="0.5" stroke-linejoin="round">R</text>
<text transform="translate(1041.08,856.40) scale(0.9450,1)" font-size="20.22" font-style="italic" fill="#000" stroke="#000" stroke-width="0.3" stroke-linejoin="round">LAT</text>
<text transform="translate(684.38,951.50) scale(1.0510,1)" font-size="31.81" font-weight="bold" font-style="italic" fill="#000" stroke="#000" stroke-width="0.5" stroke-linejoin="round">Min</text>
<text transform="translate(743.54,960.00) scale(0.9670,1)" font-size="21.09" font-style="italic" fill="#000" stroke="#000" stroke-width="0.3" stroke-linejoin="round">LAT</text>
<text transform="translate(831.58,827.20) scale(0.9219,1)" font-size="39.14" font-weight="bold" font-style="italic" fill="#000">Φ</text>
<text transform="translate(861.54,834.00) scale(0.9246,1)" font-size="21.81" font-style="italic" fill="#000" stroke="#000" stroke-width="0.3" stroke-linejoin="round">LAT</text>
</svg>
</body></html>
